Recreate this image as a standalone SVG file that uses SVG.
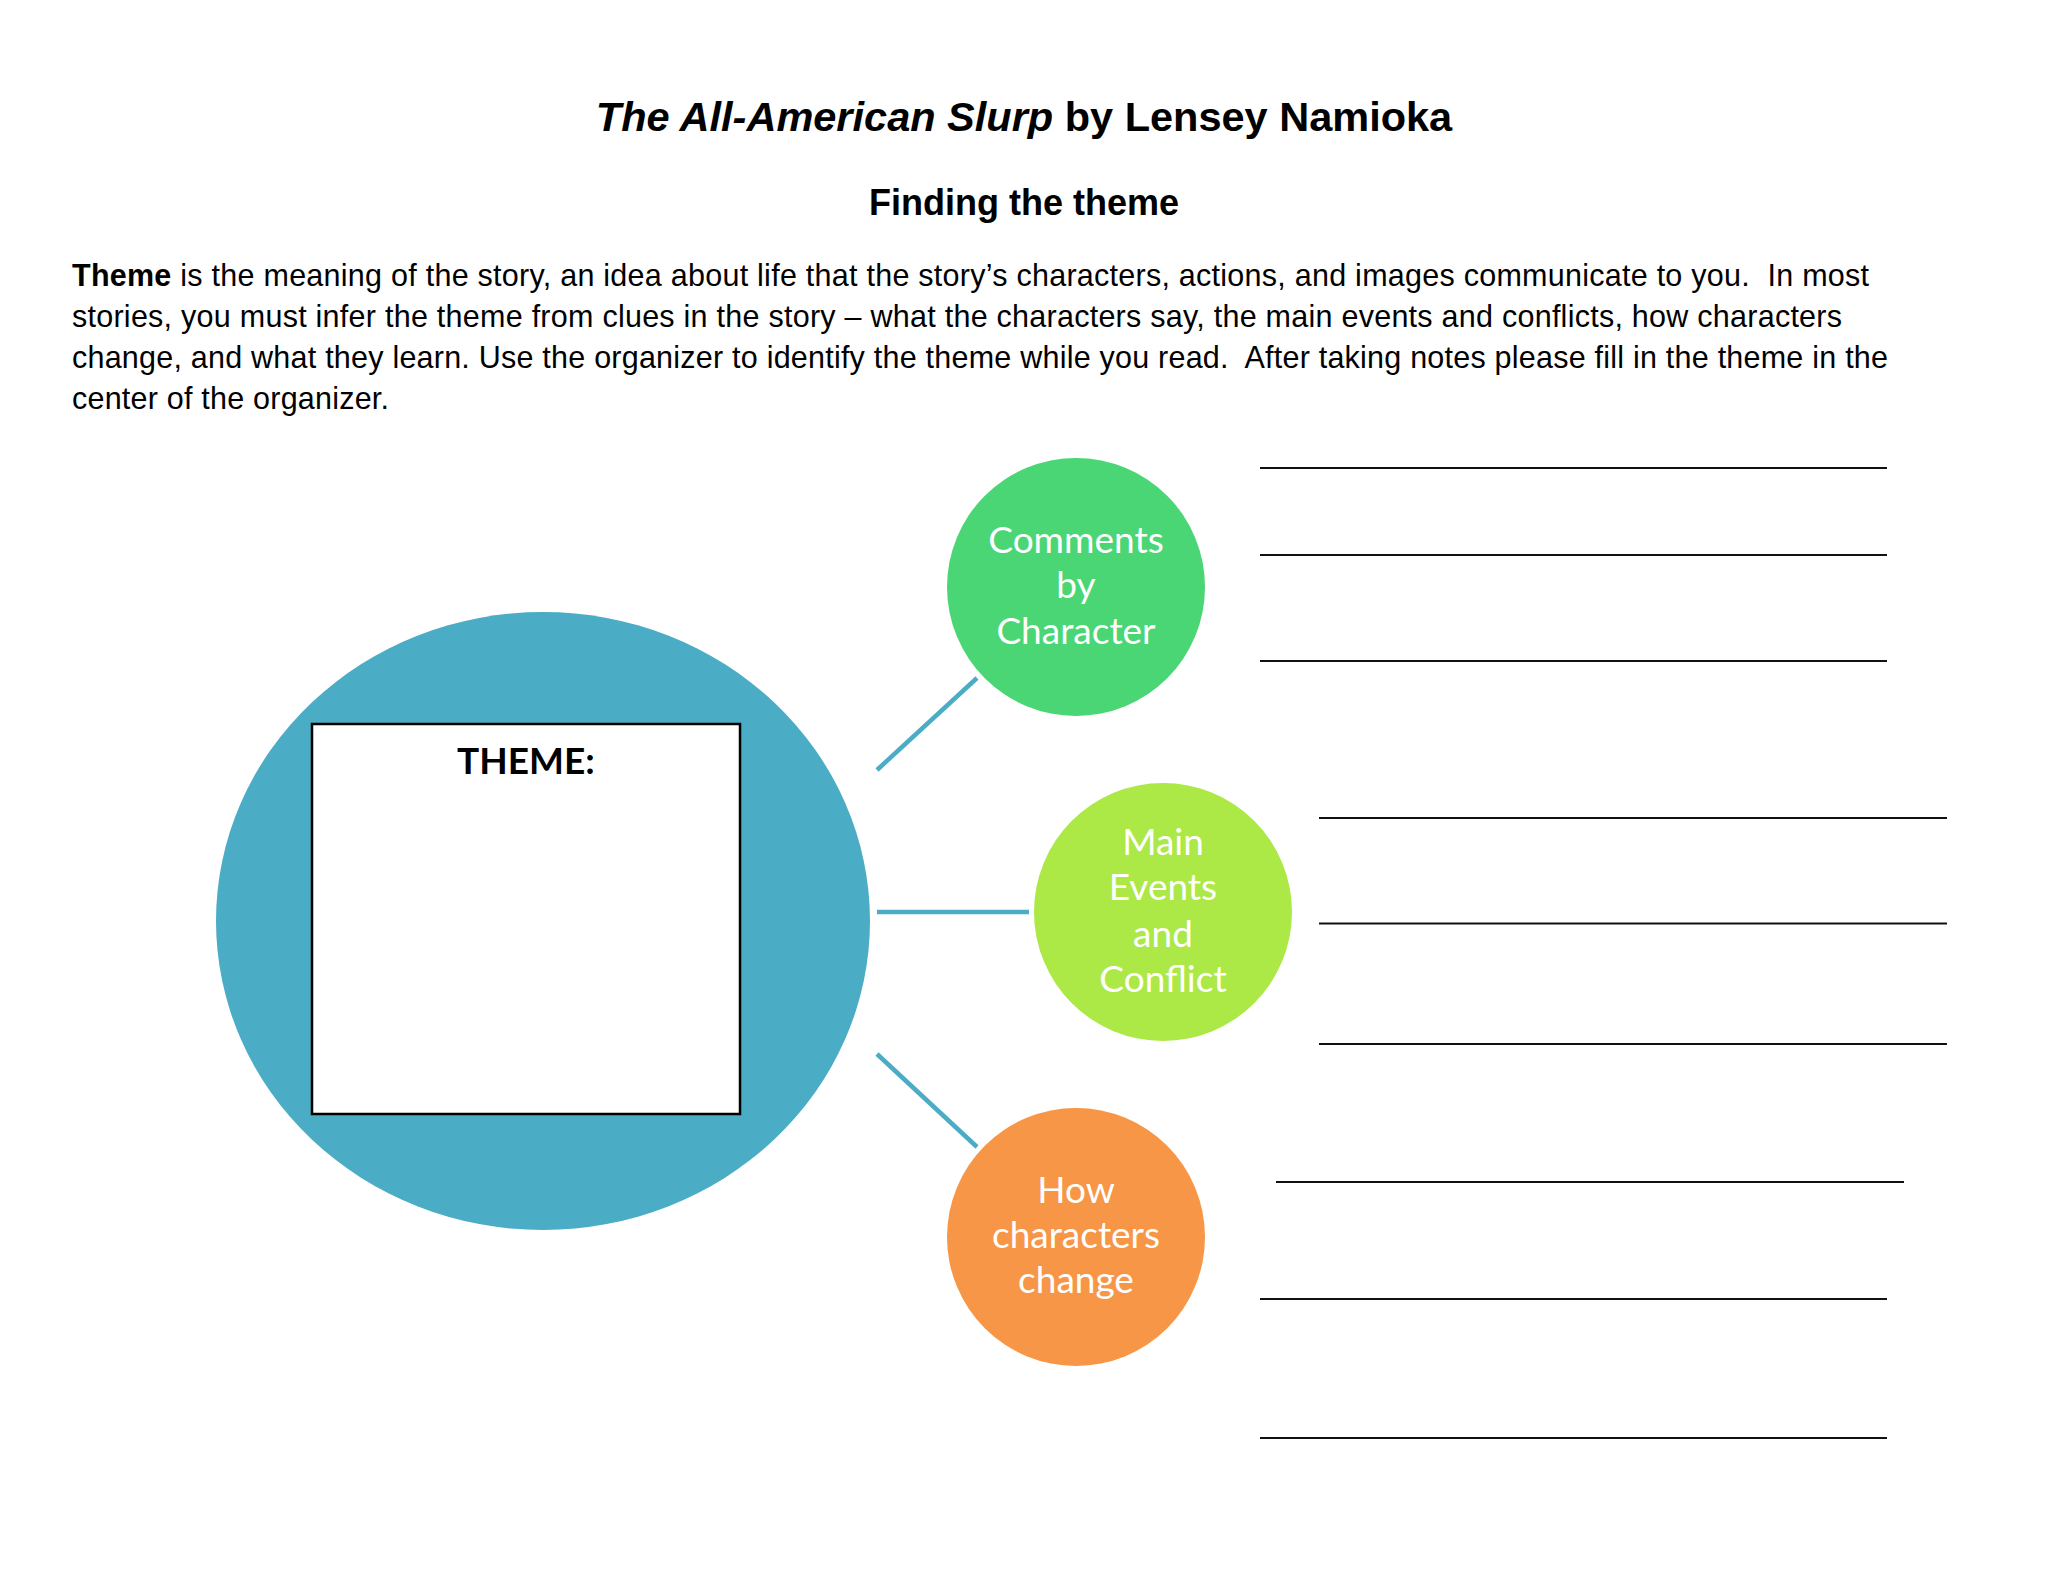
<svg xmlns="http://www.w3.org/2000/svg" width="2048" height="1582" viewBox="0 0 2048 1582">
<style>
.title{font-family:"Liberation Sans",Arial,sans-serif;font-weight:bold;fill:#000}
.body{font-family:"Liberation Sans",Arial,sans-serif;font-size:30.5px;fill:#000;white-space:pre}
.lbl{font-family:Lato,"Open Sans",sans-serif;font-size:37px;fill:#fff;text-anchor:middle}
.theme{font-family:Lato,"Open Sans",sans-serif;font-size:37px;font-weight:bold;fill:#000;text-anchor:middle}
.conn{stroke:#4BACC6;stroke-width:4.5;fill:none}
.rule{stroke:#111;stroke-width:2;fill:none}
</style>
<rect x="0" y="0" width="2048" height="1582" fill="#fff"/>
<g id="header">
<text class="title" x="1024" y="131" font-size="41.5" text-anchor="middle"><tspan font-style="italic">The All-American Slurp</tspan> by Lensey Namioka</text>
<text class="title" x="1024" y="215" font-size="36" text-anchor="middle">Finding the theme</text>
<text class="body" x="72" y="286" textLength="1797" lengthAdjust="spacing" xml:space="preserve"><tspan font-weight="bold">Theme</tspan> is the meaning of the story, an idea about life that the story’s characters, actions, and images communicate to you.  In most</text>
<text class="body" x="72" y="327" textLength="1770" lengthAdjust="spacing">stories, you must infer the theme from clues in the story – what the characters say, the main events and conflicts, how characters</text>
<text class="body" x="72" y="368" textLength="1816" lengthAdjust="spacing" xml:space="preserve">change, and what they learn. Use the organizer to identify the theme while you read.  After taking notes please fill in the theme in the</text>
<text class="body" x="72" y="409" textLength="317" lengthAdjust="spacing">center of the organizer.</text>
</g>
<g id="connectors">
<line class="conn" x1="877" y1="770" x2="977" y2="678"/>
<line class="conn" x1="877" y1="912" x2="1029" y2="912"/>
<line class="conn" x1="877" y1="1054" x2="977" y2="1147"/>
</g>
<g id="theme-node">
<ellipse cx="543" cy="921" rx="327" ry="309" fill="#4BACC6"/>
<rect x="312" y="724" width="428" height="390" fill="#fff" stroke="#000" stroke-width="2.5"/>
<text class="theme" x="526" y="774">THEME:</text>
</g>
<g id="comments-node">
<circle cx="1076" cy="587" r="129" fill="#4AD674"/>
<text class="lbl" x="1076" y="553">Comments</text>
<text class="lbl" x="1076" y="598">by</text>
<text class="lbl" x="1076" y="644">Character</text>
</g>
<g id="events-node">
<circle cx="1163" cy="912" r="129" fill="#ACE846"/>
<text class="lbl" x="1163" y="855">Main</text>
<text class="lbl" x="1163" y="900">Events</text>
<text class="lbl" x="1163" y="947">and</text>
<text class="lbl" x="1163" y="992">Conflict</text>
</g>
<g id="change-node">
<circle cx="1076" cy="1237" r="129" fill="#F79646"/>
<text class="lbl" x="1076" y="1203">How</text>
<text class="lbl" x="1076" y="1248">characters</text>
<text class="lbl" x="1076" y="1293">change</text>
</g>
<g id="answer-lines">
<line class="rule" x1="1260" y1="468" x2="1887" y2="468"/>
<line class="rule" x1="1260" y1="555" x2="1887" y2="555"/>
<line class="rule" x1="1260" y1="661" x2="1887" y2="661"/>
<line class="rule" x1="1319" y1="818" x2="1947" y2="818"/>
<line class="rule" x1="1319" y1="923.5" x2="1947" y2="923.5"/>
<line class="rule" x1="1319" y1="1044" x2="1947" y2="1044"/>
<line class="rule" x1="1276" y1="1182" x2="1904" y2="1182"/>
<line class="rule" x1="1260" y1="1299" x2="1887" y2="1299"/>
<line class="rule" x1="1260" y1="1438" x2="1887" y2="1438"/>
</g>
</svg>
